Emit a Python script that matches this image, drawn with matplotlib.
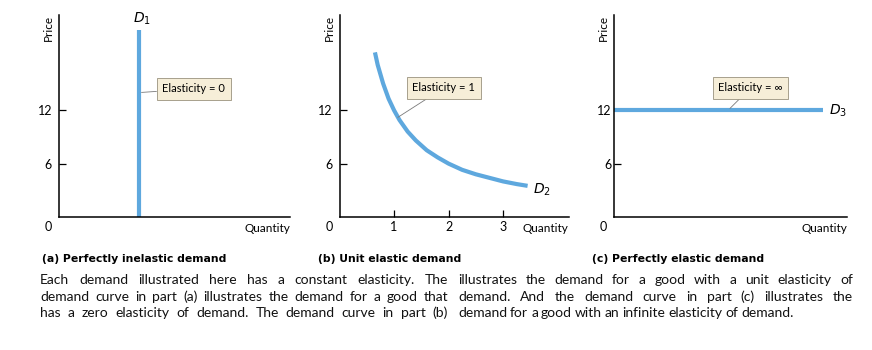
import matplotlib
matplotlib.use("Agg")
import matplotlib.pyplot as plt

plt.rcParams['font.family'] = ['Lato', 'DejaVu Sans']
plt.rcParams['mathtext.fontset'] = 'dejavusans'

# data
inelastic_qty = [1.45, 1.45]
inelastic_price = [0, 21.0]

unit_qty = [0.65, 0.7, 0.8, 0.9, 1.0, 1.1, 1.25, 1.4, 1.6, 1.8, 2.0,
            2.25, 2.5, 2.75, 3.0, 3.25, 3.45]
unit_price = [18.5, 17.1, 15.0, 13.3, 12.0, 10.9, 9.6, 8.6, 7.5, 6.7, 6.0,
              5.3, 4.8, 4.4, 4.0, 3.7, 3.5]

elastic_qty = [0, 3.77]
elastic_price = [12, 12]

price_ticks = [6, 12]
qty_ticks = [1, 2, 3]

captions = ["(a) Perfectly inelastic demand", "(b) Unit elastic demand",
            "(c) Perfectly elastic demand"]
box_labels = ["Elasticity = 0", "Elasticity = 1", "Elasticity = \u221e"]

left_col = ["Each demand illustrated here has a constant elasticity. The",
            "demand curve in part (a) illustrates the demand for a good that",
            "has a zero elasticity of demand. The demand curve in part (b)"]
right_col = ["illustrates the demand for a good with a unit elasticity of",
             "demand. And the demand curve in part (c) illustrates the",
             "demand for a good with an infinite elasticity of demand."]

W, H = 872, 350
BLUE = '#5ea8de'
BOX = dict(boxstyle='square,pad=0.5', fc='#f6eed8', ec='#9a927e', lw=0.6)
LEADER = dict(arrowstyle='-', color='#7a7a7a', lw=0.6, shrinkA=0, shrinkB=0)


def fx(px):
    return px / W


def fy(py):
    return 1 - py / H


fig = plt.figure(figsize=(8.72, 3.5), dpi=100)
fig.patch.set_facecolor('white')

# axes placed in pixels: left, width
panels = [(59, 231), (339.5, 229), (614, 233)]
axes = []
for left, width in panels:
    ax = fig.add_axes([fx(left), 1 - 217 / H, width / W, 202 / H])
    ax.set_xlim(0, 4.2)
    ax.set_ylim(0, 22.7)
    for s in ['top', 'right']:
        ax.spines[s].set_visible(False)
    for s in ['left', 'bottom']:
        ax.spines[s].set_linewidth(1.1)
    ax.set_yticks(price_ticks)
    ax.set_yticklabels([str(t) for t in price_ticks])
    ax.tick_params(axis='y', direction='in', length=5, width=0.9, labelsize=9, pad=5)
    ax.set_xticks([])
    ax.text(-0.045, 1.0, 'Price', rotation=90, ha='center', va='top', fontsize=8.5,
            transform=ax.transAxes)
    ax.text(1.0, -0.055, 'Quantity', ha='right', va='center', fontsize=8.5,
            transform=ax.transAxes)
    ax.text(-0.045, -0.05, '0', ha='center', va='center', fontsize=9,
            transform=ax.transAxes)
    axes.append(ax)

ax_a, ax_b, ax_c = axes

# (a) perfectly inelastic
ax_a.plot(inelastic_qty, inelastic_price, color=BLUE, lw=3, solid_capstyle='butt')
ax_a.text(1.5, 21.3, r'$D_1$', ha='center', va='bottom', fontsize=10)
ax_a.annotate(box_labels[0], xy=(1.5, 14.0), xytext=(2.45, 14.4), ha='center', va='center',
              fontsize=8, bbox=BOX, arrowprops=LEADER)

# (b) unit elastic
ax_b.plot(unit_qty, unit_price, color=BLUE, lw=3, solid_capstyle='butt')
ax_b.set_xticks(qty_ticks)
ax_b.set_xticklabels([str(t) for t in qty_ticks])
ax_b.tick_params(axis='x', direction='in', length=5, width=0.9, labelsize=9, pad=3)
ax_b.text(3.55, 3.1, r'$D_2$', ha='left', va='center', fontsize=10)
ax_b.annotate(box_labels[1], xy=(1.07, 11.2), xytext=(1.91, 14.5), ha='center', va='center',
              fontsize=8, bbox=BOX, arrowprops=LEADER)

# (c) perfectly elastic
ax_c.plot(elastic_qty, elastic_price, color=BLUE, lw=3, solid_capstyle='butt', clip_on=False)
ax_c.tick_params(axis='y', pad=2)
ax_c.text(3.88, 11.9, r'$D_3$', ha='left', va='center', fontsize=10)
ax_c.annotate(box_labels[2], xy=(2.09, 12.2), xytext=(2.46, 14.5), ha='center', va='center',
              fontsize=8, bbox=BOX, arrowprops=LEADER)

# captions
for x, cap in zip([42, 318, 592], captions):
    fig.text(fx(x), fy(262), cap, fontsize=7.8, fontweight='bold', family='DejaVu Sans',
             ha='left', va='baseline')

# justified body text
renderer = fig.canvas.get_renderer()
BODY_SIZE = 10


def put_line(line, left, right, baseline, justify=True):
    words = line.split()
    arts = [fig.text(0, fy(baseline), w, fontsize=BODY_SIZE, color='#111111',
                     ha='left', va='baseline') for w in words]
    widths = [a.get_window_extent(renderer).width for a in arts]
    if justify and len(words) > 1:
        gap = (right - left - sum(widths)) / (len(words) - 1)
    else:
        gap = BODY_SIZE * 0.3
    x = left
    for a, w in zip(arts, widths):
        a.set_x(fx(x))
        x += w + gap


baselines = [284, 301, 317]
for line, b in zip(left_col, baselines):
    put_line(line, 40, 448, b)
for i, (line, b) in enumerate(zip(right_col, baselines)):
    put_line(line, 458, 853, b, justify=(i < 2))

fig.savefig('out.png', dpi=100, facecolor='white')
